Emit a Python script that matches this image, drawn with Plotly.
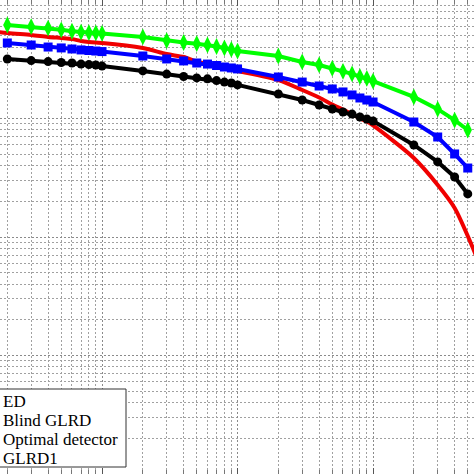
import plotly.graph_objects as go

# false alarm probability grid (marker positions)
pfa = [2e-4, 3e-4, 4e-4, 5e-4, 6e-4, 7e-4, 8e-4, 9e-4,
       1e-3, 2e-3, 3e-3, 4e-3, 5e-3, 6e-3, 7e-3, 8e-3, 9e-3,
       1e-2, 2e-2, 3e-2, 4e-2, 5e-2, 6e-2, 7e-2, 8e-2, 9e-2,
       1e-1, 2e-1, 3e-1, 4e-1, 5e-1]

pmd_ed = [0.615, 0.595, 0.580, 0.560, 0.545, 0.535, 0.530, 0.527,
          0.522, 0.488, 0.455, 0.438, 0.428, 0.418, 0.405, 0.394, 0.383,
          0.371, 0.337, 0.300, 0.283, 0.265, 0.250, 0.238, 0.226, 0.218,
          0.207, 0.152, 0.120, 0.097, 0.080]

pmd_blind = [0.434, 0.417, 0.401, 0.394, 0.386, 0.379, 0.375, 0.371,
             0.367, 0.337, 0.318, 0.306, 0.294, 0.288, 0.280, 0.272, 0.267,
             0.262, 0.224, 0.203, 0.188, 0.1775, 0.1675, 0.158, 0.149, 0.1432,
             0.1378, 0.0934, 0.0698, 0.0502, 0.0382]

pmd_opt = [0.318, 0.308, 0.302, 0.297, 0.294, 0.288, 0.285, 0.283,
           0.277, 0.252, 0.237, 0.226, 0.220, 0.216, 0.209, 0.203, 0.1995,
           0.192, 0.161, 0.1432, 0.130, 0.1202, 0.1135, 0.109, 0.103, 0.099,
           0.0953, 0.0598, 0.043, 0.0321, 0.0231]

pfa_glrd1 = [1e-4] + pfa + [6e-1]
pmd_glrd1 = [0.575, 0.527, 0.507, 0.488, 0.478, 0.469, 0.451, 0.442, 0.437,
             0.434, 0.394, 0.350, 0.330, 0.303, 0.288, 0.277, 0.267, 0.257,
             0.252, 0.211, 0.174, 0.1504, 0.1313, 0.119, 0.109, 0.100, 0.0943,
             0.0873, 0.0464, 0.0275, 0.0176, 0.0102, 0.0062]

legend_labels = ['ED', 'Blind GLRD', 'Optimal detector', 'GLRD1']

decades = [1e-5, 1e-4, 1e-3, 1e-2, 1e-1, 1e0]
minors = [m * d for d in decades for m in range(2, 10)]

fig = go.Figure()

fig.add_trace(go.Scatter(
    x=pfa_glrd1, y=pmd_glrd1, name=legend_labels[3],
    mode='lines', line=dict(color='#f00000', width=4, shape='spline', smoothing=0.8)
))
fig.add_trace(go.Scatter(
    x=pfa, y=pmd_opt, name=legend_labels[2],
    mode='lines+markers', line=dict(color='black', width=4),
    marker=dict(symbol='circle', size=9, color='black')
))
fig.add_trace(go.Scatter(
    x=pfa, y=pmd_blind, name=legend_labels[1],
    mode='lines+markers', line=dict(color='#0000ff', width=4),
    marker=dict(symbol='square', size=9, color='#0000ff')
))
fig.add_trace(go.Scatter(
    x=pfa, y=pmd_ed, name=legend_labels[0],
    mode='lines+markers', line=dict(color='#00ff00', width=4),
    marker=dict(symbol='diamond-tall', size=12, color='#00ff00')
))

axis_style = dict(
    type='log', showticklabels=False, zeroline=False, showline=False,
    showgrid=True, gridcolor='#8a8a8a', griddash='2px,2px', gridwidth=1,
)

fig.update_xaxes(
    **axis_style, range=[-3.753, -0.255], tickvals=decades,
    ticks='inside', ticklen=6, tickcolor='#555', mirror='ticks',
    minor=dict(tickvals=minors, showgrid=True, gridcolor='#a0a0a0',
               griddash='2px,2px', ticks='inside', ticklen=4, tickcolor='#777')
)
fig.update_yaxes(
    **axis_style, range=[-4, 0], tickvals=decades, ticks='',
    minor=dict(tickvals=minors, showgrid=True, gridcolor='#a0a0a0',
               griddash='2px,2px', ticks='')
)

# legend box (its line samples fall outside the visible area)
fig.add_shape(
    type='rect', xref='paper', yref='paper',
    x0=-0.02, x1=126 / 474, y0=7 / 474, y1=85 / 474,
    line=dict(color='#333', width=1), fillcolor='white', layer='above'
)
for i, label in enumerate(legend_labels):
    fig.add_annotation(
        xref='paper', yref='paper', x=0.002, y=(72.5 - 19 * i) / 474,
        xanchor='left', yanchor='middle', showarrow=False, text=label,
        font=dict(family='Liberation Serif', size=17, color='black')
    )

fig.update_layout(
    width=474, height=474,
    margin=dict(l=0, r=0, t=0, b=0, autoexpand=False),
    plot_bgcolor='white', paper_bgcolor='white',
    showlegend=False,
)

fig.write_html("out.html", config={'displayModeBar': False},
               post_script="document.body.style.margin='0';")
